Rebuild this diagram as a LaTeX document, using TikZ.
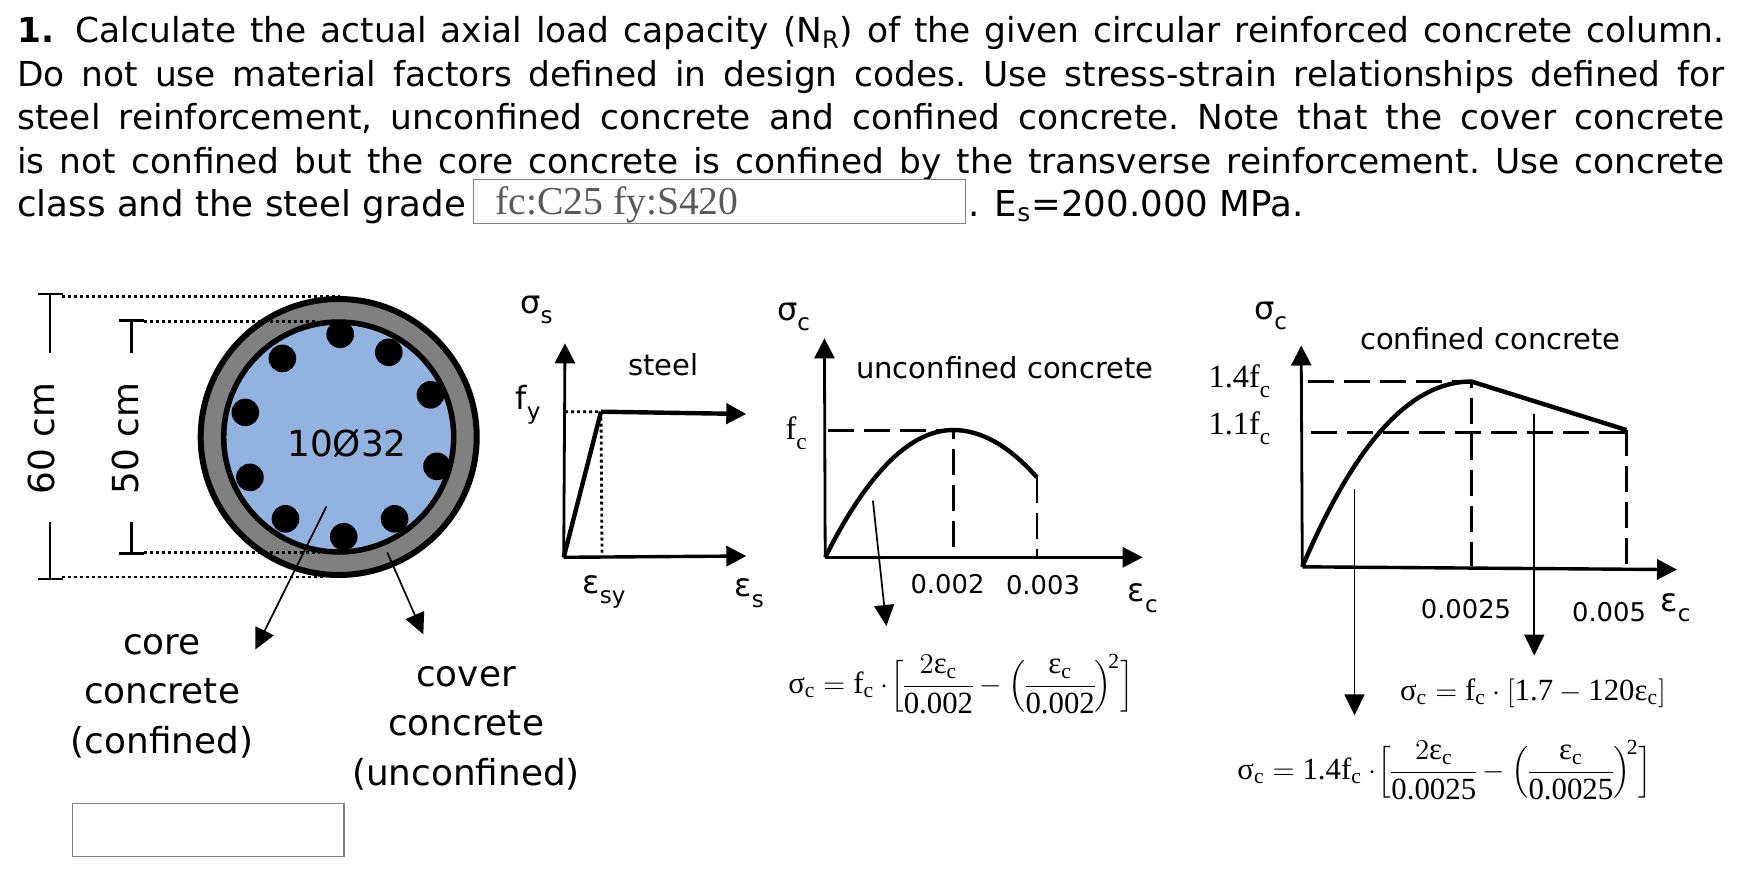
\documentclass[tikz,border=0pt]{standalone}
\usepackage{amsmath}
\usepackage{fontspec}
\setmainfont{DejaVu Sans}
\newfontfamily\cambria{Liberation Serif}
\usetikzlibrary{arrows.meta}
\definecolor{corecol}{HTML}{92B2E0}
\definecolor{covercol}{HTML}{808080}
\newcommand{\lowsub}[1]{\raisebox{-.32em}{\scalebox{.72}{#1}}}
\newcommand{\sigc}{\text{σ}_{\text{c}}}
\newcommand{\epsc}{\text{ε}_{\text{c}}}
\newcommand{\fc}{\text{f}_{\text{c}}}
\nulldelimiterspace=0pt
\tikzset{
  bigtext/.style={inner sep=0pt,align=center,font=\fontsize{17.9}{24.8}\selectfont},
  toptext/.style={inner sep=0pt,font=\fontsize{17.2}{21.75}\selectfont\frenchspacing},
  lasttext/.style={inner sep=0pt,font=\fontsize{17.8}{21.75}\selectfont},
  midtext/.style={inner sep=0pt,font=\fontsize{14.5}{17}\selectfont},
  ticktext/.style={inner sep=0pt,font=\fontsize{12.9}{15}\selectfont},
  symtext/.style={inner sep=0pt,font=\fontsize{16}{19}\selectfont},
  sertext/.style={inner sep=0pt,font=\cambria\fontsize{15.4}{18}\selectfont},
  labtext/.style={inner sep=0pt,font=\cambria\fontsize{16.2}{19}\selectfont},
  axis/.style={line width=1.4pt,-{Triangle[length=10pt,width=10pt]}},
  curve/.style={line width=2.2pt},
  dashline/.style={line width=1.4pt,dash pattern=on 13pt off 5pt},
  dotline/.style={line width=1.4pt,dash pattern=on 1.5pt off 1.5pt},
  callout/.style={line width=.85pt,-{Triangle[length=10.5pt,width=10pt]}},
  dimline/.style={line width=1.3pt},
  entry/.style={draw=covercol,line width=.7pt,inner sep=0pt,fill=white}
}
\begin{document}
\begin{tikzpicture}[x=.5pt,y=-.5pt]
  \useasboundingbox (0,0) rectangle (1744,868);
  % question text
  \node[toptext,anchor=north west,text width=853.5pt,align=justify] (question) at (17,16) {%
    \textbf{1.}\hspace{.62em}Calculate the actual axial load capacity (N\textsubscript{R}) of the given circular reinforced concrete column.\linebreak
    Do not use material factors defined in design codes. Use stress-strain relationships defined for\linebreak
    steel reinforcement, unconfined concrete and confined concrete. Note that the cover concrete\linebreak
    is not confined but the core concrete is confined by the transverse reinforcement. Use concrete\linebreak};
  \node[lasttext,anchor=base west] (classtext) at (17,216) {class and the steel grade};
  \node[entry,minimum width=246pt,minimum height=22pt,anchor=north west] (grade) at (473,178.5) {};
  \node[font=\cambria\fontsize{19.8}{22}\selectfont,text=black!65,inner sep=0pt] (gradeval) at (617,205) {fc:C25 fy:S420};
  \node[lasttext,anchor=base west] (modulus) at (968,216) {. E\textsubscript{s}=200.000 MPa.};
  % column section
  \draw[line width=3pt,fill=covercol] (338.7,437) circle (69pt);
  \draw[line width=2.75pt,fill=corecol] (338.7,437) circle (57.5pt);
  \foreach \x/\y in {340.2/334.3,388.8/352.3,430.5/394.8,437/466.3,394.6/518.8,343.7/536.7,285.5/518.8,249.9/477.4,245.3/412.4,282.4/358.4}
    \fill (\x,\y) circle (6.9pt);
  \node[bigtext] (bars) at (347,443) {10Ø32};
  % dimensions
  \draw[dotline] (62,296.4) -- (340,296.4);
  \draw[dotline] (143.5,321.7) -- (315,321.7);
  \draw[dotline] (143.5,552.4) -- (320,552.4);
  \draw[dotline] (62,577) -- (325,577);
  \draw[dimline] (38.3,294) -- (63,294) (50,294) -- (50,353.4);
  \draw[dimline] (38.3,579) -- (63,579) (50,579) -- (50,521.8);
  \draw[dimline] (119.4,320.5) -- (143.5,320.5) (131.3,320.5) -- (131.3,353.4);
  \draw[dimline] (119.4,553.2) -- (143.5,553.2) (131.3,553.2) -- (131.3,521.8);
  \node[bigtext,rotate=90] (dimouter) at (41,438.4) {60 cm};
  \node[bigtext,rotate=90] (diminner) at (125,438.4) {50 cm};
  % callouts
  \coordinate (corefrom) at (326.4,506.5);
  \coordinate (coreto) at (255.3,649.6);
  \coordinate (coverfrom) at (387.3,552.4);
  \coordinate (coverto) at (423.3,634.3);
  \draw[callout] (corefrom) -- (coreto);
  \draw[callout] (coverfrom) -- (coverto);
  \node[bigtext] (corelabel) at (162,696) {core\\concrete\\(confined)};
  \node[bigtext] (coverlabel) at (466,728) {cover\\concrete\\(unconfined)};
  \node[draw=covercol,line width=.7pt,minimum width=135.6pt,minimum height=26.6pt,inner sep=0pt,anchor=north west] (answer) at (72,802.5) {};
  % steel
  \coordinate (so) at (563.7,557.3);
  \coordinate (sy) at (601,411.7);
  \draw[dotline] (565,411.7) -- (sy) -- (602,555);
  \draw[axis] (so) -- (565,343.3);
  \draw[axis,line width=1.7pt] (so) -- (746.3,556);
  \draw[curve] (so) -- (sy);
  \draw[curve,-{Triangle[length=10pt,width=10pt]}] (sy) -- (746.3,414);
  \node[symtext] (sigs) at (536.6,310) {σ\lowsub{s}};
  \node[midtext] (steel) at (663.5,365) {steel};
  \node[symtext] (fy) at (528,405) {f\lowsub{y}};
  \node[symtext] (esy) at (604,591.7) {ε\lowsub{sy}};
  \node[symtext] (es) at (749.3,593.3) {ε\lowsub{s}};
  % unconfined concrete
  \coordinate (uo) at (825.2,557.3);
  \coordinate (upk) at (953.2,430);
  \coordinate (uend) at (1036.9,477.3);
  \draw[dashline] (828,430.5) -- (953.2,430.5) -- (953.2,557);
  \draw[dashline] (uend) -- (1036.9,557);
  \draw[axis] (uo) -- (824.4,338.3);
  \draw[axis] (uo) -- (1142.7,557.3);
  \draw[curve] (uo) .. controls (867.9,472.4) and (910.5,430) .. (upk) .. controls (981,430) and (1009,445.8) .. (uend);
  \coordinate (ufrom) at (872.9,500.7);
  \coordinate (uto) at (886.4,626);
  \draw[callout] (ufrom) -- (uto);
  \node[symtext] (sigcu) at (793.6,316.7) {σ\lowsub{c}};
  \node[midtext] (unconf) at (1004.8,367.7) {unconfined concrete};
  \node[labtext] (fcu) at (796.2,433.3) {f\lowsub{c}};
  \node[ticktext] (utick) at (947.5,584) {0.002};
  \node[ticktext] (utickb) at (1043,585) {0.003};
  \node[symtext] (ecu) at (1142.7,598.3) {ε\lowsub{c}};
  \node[sertext] (ulaw) at (961,684) {$\sigc=\fc\cdot\!\Big[\dfrac{2\epsc}{\text{0.002}}-\Big(\dfrac{\epsc}{\text{0.002}}\Big)^{\!\text{2}}\Big]$};
  % confined concrete
  \coordinate (co) at (1302.3,566.8);
  \coordinate (cpk) at (1471.4,381.5);
  \coordinate (cend) at (1626.4,430);
  \draw[dashline] (1307.7,381.5) -- (cpk) -- (1471.4,566);
  \draw[dashline] (1311.3,432.6) -- (1626.4,432.6);
  \draw[dashline] (cend) -- (1626.4,566);
  \draw[axis] (co) -- (1301.2,345.5);
  \draw[axis,line width=1.7pt] (co) -- (1677,569.6);
  \draw[curve] (co) .. controls (1355,443.3) and (1410,381.5) .. (cpk) -- (cend);
  \coordinate (cafrom) at (1534.3,413.9);
  \coordinate (cato) at (1534.3,655.6);
  \coordinate (cbfrom) at (1354.5,489.4);
  \coordinate (cbto) at (1354.5,715.3);
  \draw[callout] (cafrom) -- (cato);
  \draw[callout] (cbfrom) -- (cbto);
  \node[symtext] (sigcc) at (1270.6,316) {σ\lowsub{c}};
  \node[midtext] (conf) at (1490.4,338.3) {confined concrete};
  \node[labtext] (fca) at (1239.4,381.5) {1.4f\lowsub{c}};
  \node[labtext] (fcb) at (1239.4,428.3) {1.1f\lowsub{c}};
  \node[ticktext] (ctick) at (1466,609.2) {0.0025};
  \node[ticktext] (ctickb) at (1609,611.7) {0.005};
  \node[symtext] (ecc) at (1675.5,608) {ε\lowsub{c}};
  \node[sertext] (claw) at (1533,693) {$\sigc=\fc\cdot[\text{1.7}-\text{120}\epsc]$};
  \node[sertext] (plaw) at (1444.8,770) {$\sigc=\text{1.4}\fc\cdot\!\Big[\dfrac{2\epsc}{\text{0.0025}}-\Big(\dfrac{\epsc}{\text{0.0025}}\Big)^{\!\text{2}}\Big]$};
\end{tikzpicture}
\end{document}
